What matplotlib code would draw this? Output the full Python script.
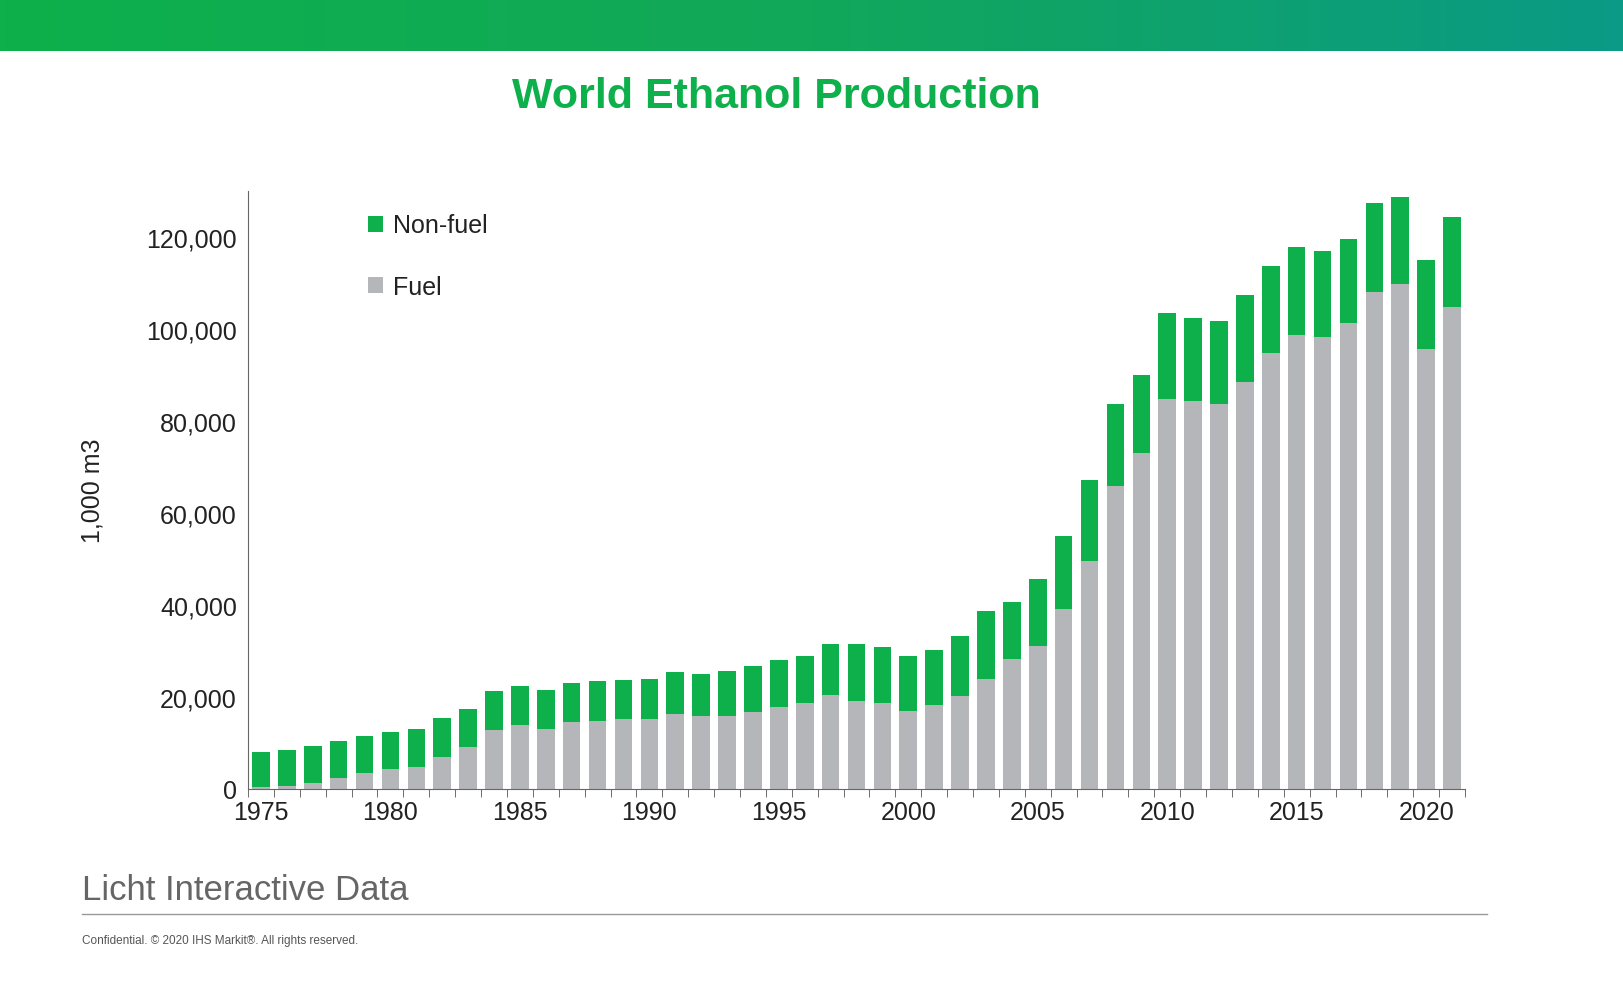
import numpy as np
import matplotlib.pyplot as plt
from matplotlib.colors import LinearSegmentedColormap

plt.rcParams["font.family"] = "Liberation Sans"

years = list(range(1975, 2022))
fuel = [0.5, 0.7, 1.3, 2.4, 3.5, 4.3, 4.8, 7.0, 9.1, 12.8, 13.9, 13.0, 14.6, 14.8, 15.2,
        15.2, 16.3, 15.9, 15.9, 16.7, 17.8, 18.7, 20.4, 19.1, 18.7, 17.0, 18.3, 20.2, 23.9,
        28.3, 31.1, 39.1, 49.6, 65.9, 73.0, 84.8, 84.3, 83.7, 88.5, 94.8, 98.7, 98.3, 101.3,
        108.0, 109.8, 95.7, 104.8]
total = [8.0, 8.5, 9.3, 10.4, 11.5, 12.4, 13.0, 15.4, 17.4, 21.3, 22.4, 21.5, 23.0, 23.5, 23.7,
         24.0, 25.4, 25.0, 25.7, 26.7, 28.0, 29.0, 31.5, 31.5, 30.9, 29.0, 30.2, 33.3, 38.7,
         40.7, 45.7, 55.0, 67.2, 83.7, 90.0, 103.5, 102.4, 101.7, 107.4, 113.7, 117.8, 117.0, 119.6,
         127.4, 128.7, 115.0, 124.3]
fuel = np.array(fuel) * 1000
nonfuel = np.array(total) * 1000 - fuel

green = "#0db04b"
gray = "#b4b6b9"
txt = "#222222"

fig = plt.figure(figsize=(16.24, 10.04), dpi=100)

# top banner
ban = fig.add_axes([0, 1 - 52 / 1004, 1, 52 / 1004])
cmap = LinearSegmentedColormap.from_list("b", ["#0db04b", "#12a85a", "#0a9a86"])
ban.imshow(np.linspace(0, 1, 256)[None, :], aspect="auto", cmap=cmap)
ban.axis("off")

fig.text(0.478, 1 - 97 / 1004, "World Ethanol Production", color=green, fontsize=31,
         fontweight="bold", ha="center", va="center")

ax = fig.add_axes([248 / 1624, 1 - 790 / 1004, (1465 - 248) / 1624, (790 - 192) / 1004])
ax.bar(years, fuel, width=0.68, color=gray, label="Fuel")
ax.bar(years, nonfuel, width=0.68, bottom=fuel, color=green, label="Non-fuel")
ax.set_xlim(1974.5, 2021.5)
ax.set_ylim(0, 130000)
ax.set_yticks(range(0, 120001, 20000))
ax.set_yticklabels([f"{v:,}" for v in range(0, 120001, 20000)])
ax.set_xticks(range(1975, 2021, 5))
ax.set_xticks(np.arange(1974.5, 2022, 1), minor=True)
ax.tick_params(axis="x", which="major", length=0, labelsize=18, pad=8, labelcolor=txt)
ax.tick_params(axis="x", which="minor", length=6, color="#555555")
ax.tick_params(axis="y", length=0, labelsize=18, pad=8, labelcolor=txt)
for s in ["top", "right"]:
    ax.spines[s].set_visible(False)
for s in ["left", "bottom"]:
    ax.spines[s].set_color("#666666")
ax.set_ylabel("1,000 m3", fontsize=18, labelpad=30, color=txt)

h, l = ax.get_legend_handles_labels()
leg = ax.legend(h[::-1], l[::-1], loc="upper left", bbox_to_anchor=(0.08, 1.0), frameon=False,
                fontsize=18, handlelength=0.6, handleheight=0.6, labelspacing=1.5, handletextpad=0.4)
for t in leg.get_texts():
    t.set_color(txt)

fig.text(82 / 1624, 1 - 891 / 1004, "Licht Interactive Data", fontsize=25, color="#666666", va="center")
fig.add_artist(plt.Line2D([82 / 1624, 1487 / 1624], [1 - 915 / 1004] * 2, color="#999999", lw=1))
fig.text(82 / 1624, 1 - 941 / 1004, "Confidential. © 2020 IHS Markit®. All rights reserved.",
         fontsize=8.5, color="#555555", va="center")

fig.savefig("out.png")
